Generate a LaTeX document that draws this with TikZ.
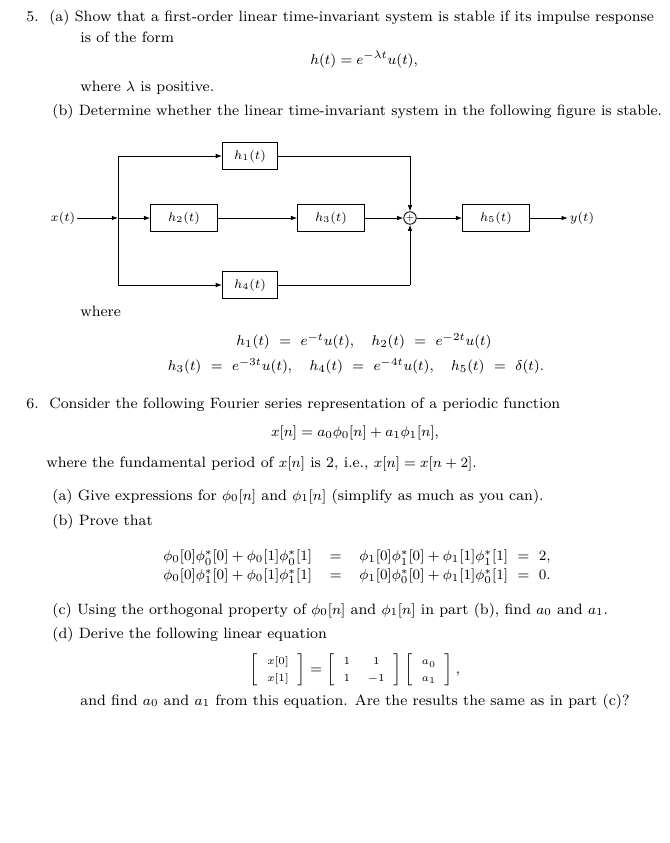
\documentclass[tikz,border=0pt]{standalone}
\usetikzlibrary{arrows.meta}
\begin{document}
\begin{tikzpicture}[x=0.5618pt,y=-0.5618pt,
  every node/.style={font=\fontsize{8.4}{10.5}\selectfont},
  txt/.style={anchor=base west,inner sep=0pt},
  eq/.style={anchor=center,inner sep=0pt},
  blk/.style={draw,line width=0.5pt,minimum height=15pt,inner sep=0pt,font=\scriptsize},
  lab/.style={inner sep=1pt,font=\scriptsize},
  sig/.style={line width=0.5pt,-{Latex[length=3.5pt,width=2.6pt]}},
  wire/.style={line width=0.5pt}]
\useasboundingbox (0,0) rectangle (670,843);
\node[txt] (t1) at (26,21) {5.\ \ (a) Show that a first-order linear time-invariant system is stable if its impulse response};
\node[txt] (t2) at (80,42) {is of the form};
\node[txt] (t3) at (310,64) {$h(t)=e^{-\lambda t}u(t),$};
\node[txt] (t4) at (80,91) {where $\lambda$ is positive.};
\node[txt] (t5) at (52,115) {(b) Determine whether the linear time-invariant system in the following figure is stable.};
% diagram
\node[lab] (x) at (63,218) {$x(t)$};
\coordinate (br) at (118,218);
\node[blk,minimum width=31pt] (h1) at (250,156) {$h_1(t)$};
\node[blk,minimum width=37.5pt] (h2) at (184,218) {$h_2(t)$};
\node[blk,minimum width=37.5pt] (h3) at (331,218) {$h_3(t)$};
\node[blk,minimum width=31pt] (h4) at (250,285) {$h_4(t)$};
\node[draw,circle,line width=0.5pt,minimum size=7pt,inner sep=0pt,font=\tiny] (s) at (410,218) {$+$};
\node[blk,minimum width=37.5pt] (h5) at (496,218) {$h_5(t)$};
\node[lab] (y) at (582,218) {$y(t)$};
\coordinate (tl) at (118,156);
\coordinate (bl) at (118,285);
\coordinate (tr) at (410,156);
\coordinate (brr) at (410,285);
\draw[sig] (x) -- (br);
\draw[sig] (br) -- (h2);
\draw[wire] (br) -- (tl); \draw[wire] (br) -- (bl);
\draw[sig] (tl) -- (h1);
\draw[sig] (bl) -- (h4);
\draw[sig] (h2) -- (h3);
\draw[sig] (h3) -- (s);
\draw[wire] (h1) -- (tr); \draw[sig] (tr) -- (s);
\draw[wire] (h4) -- (brr); \draw[sig] (brr) -- (s);
\draw[sig] (s) -- (h5);
\draw[sig] (h5) -- (y);
\node[txt] (t6) at (80,316) {where};
\node[eq] (e1) at (364,341) {$h_1(t)\ =\ e^{-t}u(t),\quad h_2(t)\ =\ e^{-2t}u(t)$};
\node[eq] (e2) at (356,366) {$h_3(t)\ =\ e^{-3t}u(t),\quad h_4(t)\ =\ e^{-4t}u(t),\quad h_5(t)\ =\ \delta(t).$};
\node[txt] (u1) at (26,408) {6.\ \ Consider the following Fourier series representation of a periodic function};
\node[eq] (u2) at (355,433) {$x[n]=a_0\phi_0[n]+a_1\phi_1[n],$};
\node[txt] (u3) at (46,467) {where the fundamental period of $x[n]$ is 2, i.e., $x[n]=x[n+2]$.};
\node[txt] (u4) at (52,500) {(a) Give expressions for $\phi_0[n]$ and $\phi_1[n]$ (simplify as much as you can).};
\node[txt] (u5) at (52,525) {(b) Prove that};
\node[eq] (u6) at (357,566) {$\begin{array}{rcl}
\phi_0[0]\phi_0^*[0]+\phi_0[1]\phi_0^*[1] &=& \phi_1[0]\phi_1^*[0]+\phi_1[1]\phi_1^*[1]\ =\ 2,\\
\phi_0[0]\phi_1^*[0]+\phi_0[1]\phi_1^*[1] &=& \phi_1[0]\phi_0^*[0]+\phi_1[1]\phi_0^*[1]\ =\ 0.
\end{array}$};
\node[txt] (u7) at (52,614) {(c) Using the orthogonal property of $\phi_0[n]$ and $\phi_1[n]$ in part (b), find $a_0$ and $a_1$.};
\node[txt] (u8) at (52,638) {(d) Derive the following linear equation};
\node[eq] (u9) at (355,670) {\renewcommand{\arraystretch}{0.9}$\left[\begin{array}{c}\scriptstyle x[0]\\ \scriptstyle x[1]\end{array}\right]=\left[\begin{array}{cc}\scriptstyle 1&\scriptstyle 1\\ \scriptstyle 1&\scriptstyle -1\end{array}\right]\left[\begin{array}{c}\scriptstyle a_0\\ \scriptstyle a_1\end{array}\right],$};
\node[txt] (u10) at (80,705) {and find $a_0$ and $a_1$ from this equation. Are the results the same as in part (c)?};
\end{tikzpicture}
\end{document}
